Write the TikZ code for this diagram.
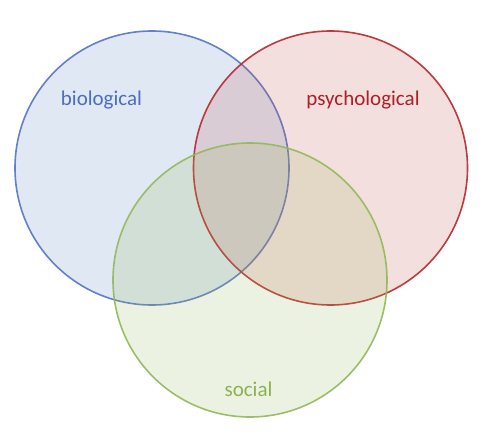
\documentclass[tikz,border=0pt]{standalone}
\usepackage{fontspec}
\setmainfont{Carlito}
\definecolor{bioline}{HTML}{5674C4}
\definecolor{biofill}{HTML}{4F81BD}
\definecolor{psyline}{HTML}{B8272E}
\definecolor{psyfill}{HTML}{C0504D}
\definecolor{socline}{HTML}{93B85A}
\definecolor{socfill}{HTML}{9BBB59}
\definecolor{biotext}{HTML}{4E6DBE}
\definecolor{psytext}{HTML}{AE1F28}
\definecolor{soctext}{HTML}{8BB152}
\tikzset{
  venn/.style={circle, inner sep=0pt, minimum size=274pt, line width=1.6pt, fill opacity=0.18, draw opacity=0.9},
  lab/.style={anchor=base, font=\fontsize{21}{25}\selectfont}
}
\begin{document}
\begin{tikzpicture}[x=1pt,y=1pt]
\useasboundingbox[fill=white] (0,0) rectangle (500,437);
\node[venn, draw=bioline, fill=biofill] (bio) at (152,269) {};
\node[venn, draw=psyline, fill=psyfill] (psy) at (330.5,269) {};
\node[venn, draw=socline, fill=socfill] (soc) at (250,157) {};
\node[lab, text=biotext] (biol) at (101.5,331) {biological};
\node[lab, text=psytext] (psyl) at (363,331) {psychological};
\node[lab, text=soctext] (socl) at (248.5,41) {social};
\end{tikzpicture}
\end{document}
